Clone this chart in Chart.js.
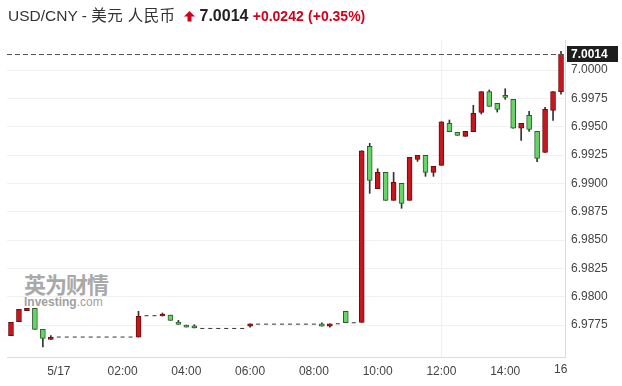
<!DOCTYPE html>
<html><head><meta charset="utf-8">
<script src="https://cdn.jsdelivr.net/npm/chart.js@4.4.0/dist/chart.umd.min.js"></script>
<style>
html,body{margin:0;padding:0;background:#fff;}
#wrap{position:relative;width:622px;height:386px;overflow:hidden;font-family:Arial,"Liberation Sans","Noto Sans CJK SC",sans-serif;}
#title{position:absolute;left:8px;top:7px;line-height:18px;font-size:15.5px;color:#333;white-space:nowrap;z-index:3;}
#title .cjk{letter-spacing:0.4px;}
#title .px{font-weight:bold;font-size:16px;color:#222;}
#title .chg{font-weight:bold;font-size:14px;color:#d0021b;}
#title svg{vertical-align:-1px;margin:0 4px 0 9px;}
#logo{position:absolute;left:24px;top:271px;z-index:0;color:#a9a9a9;white-space:nowrap;}
#logo .cn{font-family:"Noto Sans CJK SC",sans-serif;font-weight:bold;font-size:22px;line-height:25px;letter-spacing:-1px;}
#logo .en{font-size:12px;line-height:12px;font-weight:bold;color:#a0a0a0;}
#logo .en span{font-weight:normal;}
canvas{position:absolute;left:0;top:0;z-index:1;}
</style></head>
<body><div id="wrap">
<div id="title">USD/CNY - <span class="cjk">美元 人民币</span><svg width="11" height="11" viewBox="0 0 11 11"><polygon points="5.5,0 11,5.5 7.5,5.5 7.5,10.5 3.5,10.5 3.5,5.5 0,5.5" fill="#d0021b"/></svg><span class="px">7.0014</span> <span class="chg">+0.0242</span> <span class="chg">(+0.35%)</span></div>
<div id="logo"><div class="cn">英为财情</div><div class="en">Investing<span>.com</span></div></div>
<canvas id="c" width="622" height="386"></canvas>
</div>
<script>
const TIMES = ["22:30","22:45","23:00","23:15","23:30","23:45",
 "00:00","00:15","00:30","00:45","01:00","01:15","01:30","01:45","02:00","02:15","02:30","02:45",
 "03:00","03:15","03:30","03:45","04:00","04:15","04:30","04:45","05:00","05:15","05:30","05:45",
 "06:00","06:15","06:30","06:45","07:00","07:15","07:30","07:45","08:00","08:15","08:30","08:45",
 "09:00","09:15","09:30","09:45","10:00","10:15","10:30","10:45","11:00","11:15","11:30","11:45",
 "12:00","12:15","12:30","12:45","13:00","13:15","13:30","13:45","14:00","14:15","14:30","14:45",
 "15:00","15:15","15:30","15:45"];
const OPEN = [6.97656,6.97779,6.97876,6.97897,6.97712,6.97624,
 6.97644,6.97644,6.97644,6.97644,6.97644,6.97644,6.97644,6.97644,6.97644,6.97644,6.97644,6.97832,
 6.97832,6.97830,6.97838,6.97776,6.97750,6.97744,6.97720,6.97720,6.97720,6.97720,6.97720,6.97720,
 6.97741,6.97758,6.97758,6.97758,6.97758,6.97758,6.97758,6.97758,6.97758,6.97761,6.97741,6.97761,
 6.97871,6.97770,6.97774,6.99327,6.98953,6.99097,6.98850,6.99000,6.98850,6.99212,6.99247,6.99097,
 6.99159,6.99530,6.99450,6.99415,6.99456,6.99627,6.99809,6.99706,6.99777,6.99741,6.99486,6.99600,
 6.99459,6.99274,6.99644,6.99809];
const HIGH = [6.97774,6.97889,6.97897,6.97897,6.97712,6.97656,
 6.97644,6.97644,6.97644,6.97644,6.97644,6.97644,6.97644,6.97644,6.97644,6.97644,6.97871,6.97832,
 6.97832,6.97856,6.97838,6.97791,6.97750,6.97753,6.97720,6.97720,6.97720,6.97720,6.97720,6.97720,
 6.97761,6.97758,6.97758,6.97758,6.97758,6.97758,6.97758,6.97758,6.97758,6.97770,6.97761,6.97761,
 6.97871,6.97770,6.99288,6.99353,6.99129,6.99097,6.99097,6.99000,6.99230,6.99247,6.99247,6.99150,
 6.99544,6.99559,6.99450,6.99459,6.99689,6.99809,6.99824,6.99706,6.99835,6.99741,6.99530,6.99636,
 6.99459,6.99671,6.99809,7.00165];
const LOW = [6.97656,6.97779,6.97876,6.97712,6.97558,6.97624,
 6.97644,6.97644,6.97644,6.97644,6.97644,6.97644,6.97644,6.97644,6.97644,6.97644,6.97644,6.97832,
 6.97832,6.97830,6.97791,6.97756,6.97732,6.97724,6.97720,6.97720,6.97720,6.97720,6.97720,6.97720,
 6.97732,6.97758,6.97758,6.97758,6.97758,6.97758,6.97758,6.97758,6.97758,6.97741,6.97732,6.97761,
 6.97770,6.97770,6.97774,6.98912,6.98953,6.98850,6.98850,6.98780,6.98850,6.99194,6.99062,6.99062,
 6.99159,6.99456,6.99424,6.99415,6.99456,6.99612,6.99680,6.99629,6.99741,6.99486,6.99380,6.99459,
 6.99191,6.99274,6.99556,6.99786];
const CLOSE = [6.97774,6.97889,6.97897,6.97712,6.97633,6.97644,
 6.97644,6.97644,6.97644,6.97644,6.97644,6.97644,6.97644,6.97644,6.97644,6.97644,6.97827,6.97832,
 6.97832,6.97847,6.97791,6.97756,6.97732,6.97724,6.97720,6.97720,6.97720,6.97720,6.97720,6.97720,
 6.97761,6.97758,6.97758,6.97758,6.97758,6.97758,6.97758,6.97758,6.97758,6.97741,6.97761,6.97761,
 6.97770,6.97770,6.99288,6.99027,6.99097,6.98850,6.99009,6.98824,6.99230,6.99247,6.99097,6.99150,
 6.99544,6.99456,6.99424,6.99459,6.99618,6.99809,6.99680,6.99653,6.99759,6.99486,6.99530,6.99477,
 6.99221,6.99653,6.99809,7.00140];
const Y_TICKS = [6.9775,6.9800,6.9825,6.9850,6.9875,6.9900,6.9925,6.9950,6.9975,7.0000];
const X_TICK_LABELS = {"00:00":"5/17","02:00":"02:00","04:00":"04:00","06:00":"06:00","08:00":"08:00","10:00":"10:00","12:00":"12:00","14:00":"14:00"};
const NEXT_LABEL = "16:00";
const LAST_PRICE = 7.0014;

const UP_FILL = "#c8161d", UP_BORDER = "#6e0b0b";
const DN_FILL = "#66d466", DN_BORDER = "#2c5e2c";
const FONT = 'Arial, "Liberation Sans", sans-serif';

const isFlat = i => OPEN[i] === CLOSE[i] && HIGH[i] === LOW[i];
const isUp = i => CLOSE[i] >= OPEN[i];

const bodies = TIMES.map((t, i) => isFlat(i) ? null : [Math.min(OPEN[i], CLOSE[i]), Math.max(OPEN[i], CLOSE[i])]);
const wicks = TIMES.map((t, i) => isFlat(i) ? null : [LOW[i], HIGH[i]]);
const flats = TIMES.map((t, i) => isFlat(i) ? CLOSE[i] : null);

const pricePlugin = {
  id: 'price',
  afterDraw(chart) {
    const {ctx, chartArea, scales} = chart;
    const y = Math.round(scales.y.getPixelForValue(LAST_PRICE)) + 0.5;
    ctx.save();
    ctx.strokeStyle = '#555';
    ctx.lineWidth = 1;
    ctx.setLineDash([5, 3]);
    ctx.beginPath();
    ctx.moveTo(chartArea.left, y);
    ctx.lineTo(chartArea.right, y);
    ctx.stroke();
    ctx.setLineDash([]);
    ctx.fillStyle = '#1e1e1e';
    ctx.fillRect(chartArea.right + 2, y - 8.5, 51, 16);
    ctx.fillStyle = '#fff';
    ctx.font = 'bold 12px ' + FONT;
    ctx.textBaseline = 'middle';
    ctx.textAlign = 'left';
    ctx.fillText(LAST_PRICE.toFixed(4), chartArea.right + 6, y);
    const xs = scales.x;
    const step = xs.getPixelForValue(1) - xs.getPixelForValue(0);
    const nx = xs.getPixelForValue(TIMES.length - 1) + step;
    ctx.beginPath();
    ctx.rect(chartArea.left, chartArea.bottom, chartArea.right + 2 - chartArea.left, 40);
    ctx.clip();
    ctx.fillStyle = '#444';
    ctx.font = '12px ' + FONT;
    ctx.textAlign = 'center';
    ctx.textBaseline = 'top';
    ctx.fillText(NEXT_LABEL, nx, chartArea.bottom + 7);
    ctx.restore();
  }
};

new Chart(document.getElementById('c'), {
  type: 'bar',
  data: {
    labels: TIMES,
    datasets: [
      {
        label: 'body', data: bodies, order: 0, grouped: false,
        barThickness: 5, borderWidth: 1, borderSkipped: false,
        backgroundColor: TIMES.map((t, i) => isUp(i) ? UP_FILL : DN_FILL),
        borderColor: TIMES.map((t, i) => isUp(i) ? UP_BORDER : DN_BORDER)
      },
      {
        label: 'wick', data: wicks, order: 1, grouped: false,
        barThickness: 1, borderWidth: 0, backgroundColor: '#333'
      },
      {
        type: 'line', label: 'flat', data: flats, order: 2, showLine: false,
        pointStyle: 'line', pointRadius: 2, pointBorderWidth: 1, pointBorderColor: '#333',
        pointHoverRadius: 2
      }
    ]
  },
  options: {
    responsive: false, animation: false, devicePixelRatio: 1,
    layout: { padding: { left: 7, top: 40, right: 0, bottom: 0 } },
    plugins: { legend: { display: false }, tooltip: { enabled: false } },
    scales: {
      x: {
        type: 'category', offset: true,
        grid: { offset: false, drawTicks: false,
          color: c => (c.index !== undefined && X_TICK_LABELS[TIMES[c.index]]) ? '#efefef' : 'rgba(0,0,0,0)' },
        border: { color: '#dcdcdc' },
        ticks: { autoSkip: false, maxRotation: 0, minRotation: 0, padding: 7, color: '#444',
          font: { size: 12, family: FONT },
          callback: (v, i) => X_TICK_LABELS[TIMES[i]] ?? null },
        afterFit: s => { s.height = 29; }
      },
      y: {
        position: 'right', min: 6.97468, max: 7.00265,
        afterBuildTicks: s => { s.ticks = Y_TICKS.map(v => ({ value: v })); },
        afterFit: s => { s.width = 57; },
        grid: { color: '#f1f1f1', drawTicks: false },
        border: { color: '#dcdcdc' },
        ticks: { padding: 6, color: '#444', font: { size: 12, family: FONT },
          callback: v => Number(v).toFixed(4) }
      }
    }
  },
  plugins: [pricePlugin]
});
</script>
</body></html>
